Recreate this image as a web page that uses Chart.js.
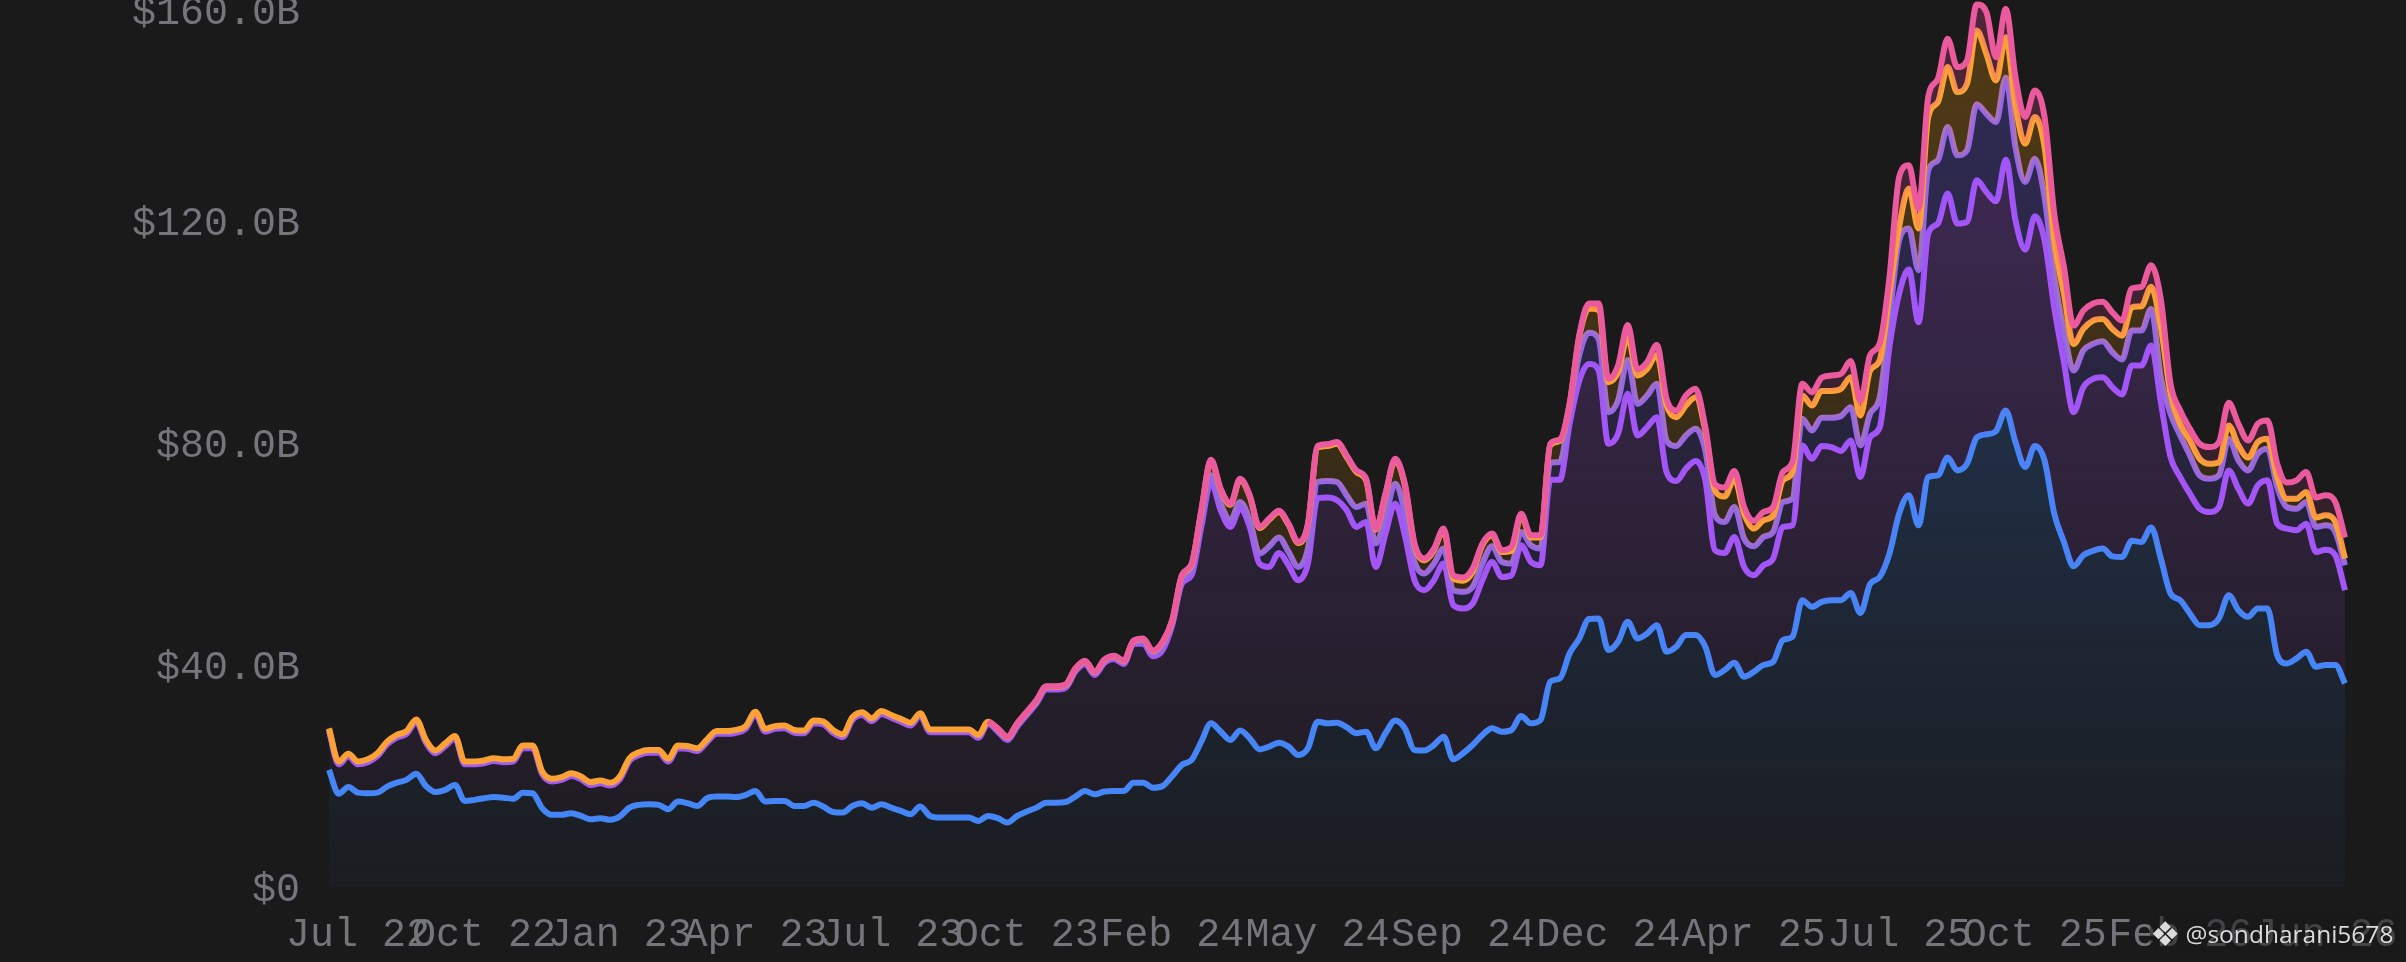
<!DOCTYPE html>
<html>
<head>
<meta charset="utf-8">
<title>Stacked values</title>
<script src="https://cdn.jsdelivr.net/npm/chart.js@4/dist/chart.umd.min.js"></script>
<style>
  html, body { margin: 0; padding: 0; background: #1a1a1a; overflow: hidden; }
  #wrap { position: relative; width: 2406px; height: 962px; }
  #mark { position: absolute; left: 2150px; top: 914px; padding-right: 9px; background: rgba(26,26,26,0.55); color: #dcdcdc; font: 24.5px "Open Sans", sans-serif; white-space: nowrap; }
  #mark span { font: 34px "DejaVu Sans", sans-serif; margin-right: 5px; vertical-align: -3px; }
</style>
</head>
<body>
<div id="wrap">
  <canvas id="chart1" width="2406" height="962"></canvas>
  <div id="mark"><span>❖</span>@sondharani5678</div>
</div>
<script>
// values in $B, each line is the top of its band
const blueLine = [
  21.2,16.9,18.1,17.1,17.0,17.1,18.2,18.9,19.4,20.5,18.3,17.2,17.6,18.5,15.6,15.8,16.1,16.3,16.2,16.0,
  17.1,17.0,14.3,13.1,13.1,13.4,12.9,12.3,12.5,12.2,12.8,14.4,14.9,15.0,14.9,14.1,15.5,15.2,14.7,16.1,
  16.4,16.4,16.3,16.7,17.4,15.5,15.6,15.6,14.7,14.7,15.3,14.6,13.6,13.5,14.7,15.2,14.4,15.0,14.4,13.8,
  13.2,14.6,12.9,12.6,12.6,12.6,12.6,12.0,12.9,12.5,11.7,12.9,13.7,14.4,15.3,15.3,15.4,16.4,17.4,16.8,
  17.3,17.4,17.4,18.9,18.9,18.0,18.3,20.1,22.1,23.0,26.3,29.6,28.1,26.6,28.3,26.9,24.9,25.4,26.1,25.4,
  23.9,25.1,29.9,29.6,29.7,28.9,27.8,28.1,25.1,27.8,30.1,28.7,24.8,24.7,25.7,27.2,23.1,24.2,25.7,27.5,
  28.7,28.1,28.4,30.9,29.6,30.2,37.1,37.7,42.2,44.9,48.4,48.5,42.8,44.3,47.9,44.9,45.8,47.3,42.5,43.4,
  45.5,45.5,43.4,38.3,39.2,40.5,38.0,38.9,40.1,40.7,44.6,45.2,51.8,50.6,51.5,51.8,51.8,53.1,49.5,54.7,
  56.0,60.2,67.4,70.7,65.3,74.0,74.3,77.5,75.2,76.4,81.1,81.7,82.3,86.0,80.3,75.8,79.6,77.0,67.4,62.3,
  57.9,59.9,60.7,61.1,59.7,59.6,62.5,62.3,64.9,59.3,53.0,51.8,49.4,47.3,47.3,48.5,52.7,50.0,48.8,50.3,
  50.3,41.9,40.4,41.3,42.5,39.8,40.1,40.1,36.8
];
const purpleLine = [
  28.2,22.2,23.6,22.2,22.6,23.7,25.8,27.0,27.7,29.8,26.1,24.2,25.5,26.8,22.2,22.2,22.4,22.8,22.6,22.7,
  25.1,25.1,20.4,19.1,19.4,20.1,19.5,18.5,18.8,18.4,19.5,22.8,23.9,24.3,24.3,22.7,25.1,25.0,24.6,26.2,
  27.7,27.7,27.9,28.6,31.2,28.1,28.6,28.7,27.9,27.8,29.6,29.4,27.9,27.1,30.2,31.1,30.0,31.3,30.6,29.9,
  29.2,30.9,28.0,28.0,28.0,28.0,28.0,27.0,29.5,28.1,26.6,29.0,31.1,33.2,35.7,35.7,36.0,38.9,40.3,38.3,
  40.5,41.2,40.3,43.9,44.0,41.7,42.8,47.3,54.8,56.3,65.0,73.1,68.0,65.0,68.3,65.0,58.4,57.8,60.3,58.1,
  55.4,58.4,70.2,70.3,69.8,68.0,65.0,65.9,57.8,63.8,69.2,63.5,55.4,53.6,55.4,58.4,50.9,50.3,51.2,55.4,
  58.7,56.0,56.3,61.7,58.7,58.1,73.5,73.5,83.6,91.4,94.4,93.2,80.0,81.8,89.0,81.5,83.0,84.8,74.9,73.3,
  75.5,76.9,73.4,60.8,60.3,63.2,57.8,56.3,58.1,59.3,65.0,65.3,79.7,77.3,79.6,79.4,78.7,80.6,74.0,81.2,
  83.0,97.5,107.1,111.4,101.9,117.9,119.7,125.1,119.7,120.0,127.5,125.4,123.7,131.2,120.3,115.0,121.0,116.7,104.6,94.7,
  85.7,90.2,91.7,92.0,90.2,88.9,94.1,94.1,97.7,87.5,77.6,74.0,71.0,68.3,67.7,68.6,75.2,71.9,69.2,72.5,
  73.4,65.6,64.7,64.4,65.6,60.5,60.9,59.9,53.6
];
const violetLine = [
  28.5,22.5,23.9,22.5,22.9,24.0,26.1,27.3,28.0,30.1,26.4,24.5,25.8,27.1,22.5,22.5,22.7,23.1,22.9,23.0,
  25.4,25.4,20.7,19.4,19.7,20.4,19.8,18.8,19.1,18.7,19.8,23.1,24.2,24.6,24.6,23.0,25.4,25.3,24.9,26.5,
  28.0,28.0,28.2,28.9,31.5,28.4,28.9,29.0,28.2,28.1,29.9,29.7,28.2,27.4,30.5,31.4,30.3,31.6,30.9,30.2,
  29.5,31.2,28.3,28.3,28.3,28.3,28.3,27.3,29.8,28.4,26.9,29.3,31.4,33.5,36.0,36.0,36.3,39.2,40.6,38.6,
  40.8,41.5,40.6,44.2,44.3,42.2,43.4,47.6,55.4,57.2,66.2,74.3,69.2,66.2,69.5,66.2,60.2,61.5,63.1,60.5,
  57.8,61.1,73.1,73.3,73.1,70.7,68.6,69.2,62.0,66.8,72.8,67.7,58.7,56.6,58.4,61.1,53.6,53.3,54.2,58.4,
  61.5,58.7,58.4,64.1,61.7,61.1,76.6,76.7,86.0,96.0,100.0,98.8,85.7,87.8,95.1,87.2,88.7,90.8,80.6,79.6,
  81.5,82.7,78.8,67.1,65.9,68.6,62.9,61.5,63.2,64.1,69.5,70.1,84.5,82.4,84.7,84.7,85.0,86.6,79.7,85.4,
  88.4,102.6,116.7,118.8,111.3,129.3,131.1,137.1,132.0,132.9,141.2,139.5,138.0,146.0,133.5,127.2,131.4,124.5,110.1,100.4,
  93.2,96.8,98.0,98.5,96.5,95.2,100.4,100.4,104.3,92.0,85.4,81.5,77.9,74.3,73.7,74.3,80.9,77.0,75.2,78.2,
  79.1,72.2,68.6,68.3,69.5,65.0,65.3,64.1,58.1
];
const orangeLine = [
  28.7,22.7,24.1,22.7,23.1,24.2,26.3,27.5,28.2,30.3,26.6,24.7,26.0,27.3,22.7,22.7,22.9,23.3,23.1,23.2,
  25.6,25.6,20.9,19.6,19.9,20.6,20.0,19.0,19.3,18.9,20.0,23.3,24.4,24.8,24.8,23.2,25.6,25.5,25.1,26.7,
  28.2,28.2,28.4,29.1,31.7,28.6,29.1,29.2,28.4,28.3,30.1,29.9,28.4,27.6,30.7,31.6,30.5,31.8,31.1,30.4,
  29.7,31.4,28.5,28.5,28.5,28.5,28.5,27.5,29.9,28.6,27.1,29.5,31.6,33.7,36.2,36.2,36.5,39.4,40.8,38.8,
  41.0,41.7,40.8,44.4,44.8,42.6,44.2,48.1,56.2,58.2,67.8,76.9,71.7,69.0,73.5,70.5,64.8,66.3,67.7,65.4,
  62.1,65.4,79.3,79.6,80.0,77.6,74.9,73.4,64.5,70.8,77.0,72.5,61.7,59.0,60.8,64.4,55.7,55.3,56.9,61.7,
  63.5,60.5,60.7,67.1,63.1,63.1,79.7,80.5,87.1,99.3,104.4,104.1,91.1,92.9,99.3,92.3,93.5,96.0,86.9,84.8,
  86.9,88.4,82.4,71.6,70.5,73.7,67.4,64.7,66.2,67.1,73.4,74.9,88.7,86.9,89.5,89.5,89.9,92.0,85.1,93.2,
  95.1,107.0,119.1,126.0,118.8,138.9,141.6,147.9,143.4,144.9,154.5,150.3,145.5,153.3,141.0,134.1,138.9,133.5,116.7,107.1,
  98.0,100.7,102.2,102.5,100.7,99.5,104.6,104.8,108.3,101.0,89.0,83.6,80.6,77.3,76.4,76.7,83.3,79.7,77.5,80.3,
  80.9,74.0,70.1,70.1,71.3,66.7,67.1,65.9,59.3
];
const pinkLine = [
  null,null,null,null,null,null,null,null,null,null,null,null,null,null,null,null,null,null,null,null,
  null,null,null,null,null,null,null,null,null,null,null,null,null,null,null,null,null,null,null,null,
  null,null,null,null,null,null,null,null,null,null,null,null,null,null,null,null,null,null,null,null,
  null,null,null,null,null,null,null,null,30.0,28.7,27.2,29.6,31.7,33.8,36.3,36.3,36.6,39.5,40.9,38.9,
  41.1,41.8,40.9,44.5,44.9,42.7,44.3,48.2,56.3,58.4,68.0,77.1,71.9,69.2,73.7,70.7,65.0,66.5,67.9,65.6,
  62.3,65.6,79.6,79.9,80.3,77.9,75.2,73.7,64.7,71.0,77.3,72.8,62.0,59.3,61.1,64.7,56.3,55.9,57.5,62.0,
  63.8,60.8,61.4,67.4,63.5,63.5,80.0,80.8,87.2,99.6,105.3,105.3,91.7,94.1,101.4,93.4,94.7,97.8,88.1,86.0,
  88.7,89.9,83.0,72.7,72.1,75.1,68.6,66.1,67.7,68.6,74.9,76.7,90.8,89.3,91.9,92.3,92.6,94.9,87.7,96.0,
  98.1,110.0,128.1,130.2,122.4,142.5,145.8,153.0,147.9,149.1,159.2,157.8,149.7,158.4,146.1,138.9,143.7,138.9,121.5,111.9,
  101.3,104.0,105.3,105.6,103.7,102.2,108.0,108.3,112.2,106.0,90.8,86.0,82.7,80.0,79.4,80.3,87.4,83.6,80.6,83.6,
  84.2,76.4,73.0,73.4,74.9,70.3,70.7,69.5,63.1
];
const tickLabels = ['Jul 22','Oct 22','Jan 23','Apr 23','Jul 23','Oct 23','Feb 24','May 24','Sep 24','Dec 24','Apr 25','Jul 25','Oct 25','Feb 26','Jun 26'];
const tickPoints = [3,16,30,44,58,72,87,102,117,132,147,162,176,191,206];
const yTickValues = [-0.5,39.5,79.5,119.5,157.5];
const yTickLabels = ['$0','$40.0B','$80.0B','$120.0B','$160.0B'];

const categories = blueLine.map((v, i) => {
  const k = tickPoints.indexOf(i);
  return k >= 0 ? tickLabels[k] : '';
});

const axisFont = { family: '"Liberation Mono", monospace', size: 40 };
const axisColor = '#75757c';

// vertical fade for a band, from the height "from" (0 top, 1 bottom of the plot) down to the axis
function fade(rgb, topAlpha, bottomAlpha, from) {
  return function (ctx) {
    const area = ctx.chart.chartArea;
    if (!area) return 'rgba(' + rgb + ',' + topAlpha + ')';
    const g = ctx.chart.ctx.createLinearGradient(0, area.top + area.height * from, 0, area.bottom);
    g.addColorStop(0, 'rgba(' + rgb + ',' + topAlpha + ')');
    g.addColorStop(1, 'rgba(' + rgb + ',' + bottomAlpha + ')');
    return g;
  };
}

function band(label, data, color, fill, background) {
  return {
    label: label,
    data: data,
    borderColor: color,
    borderWidth: 6,
    backgroundColor: background,
    fill: fill,
    pointRadius: 0,
    cubicInterpolationMode: 'monotone',
    borderJoinStyle: 'round'
  };
}

new Chart(document.getElementById('chart1'), {
  type: 'line',
  data: {
    labels: categories,
    datasets: [
      band('Pink', pinkLine, '#ec5a9e', '+1', fade('236,72,153', 0.26, 0.03, 0)),
      band('Orange', orangeLine, '#fba136', '+1', fade('245,158,11', 0.26, 0.03, 0)),
      band('Violet', violetLine, '#9566e6', '+1', fade('110,90,246', 0.26, 0.03, 0.1)),
      band('Purple', purpleLine, '#a855f7', '+1', fade('168,85,247', 0.28, 0.02, 0.1)),
      band('Blue', blueLine, '#4287f5', 'origin', fade('59,130,246', 0.2, 0.03, 0.46))
    ]
  },
  options: {
    responsive: false,
    animation: false,
    layout: { padding: { left: 0, right: 61, top: 0, bottom: 0 } },
    plugins: { legend: { display: false }, tooltip: { enabled: false } },
    scales: {
      x: {
        grid: { display: false },
        border: { display: false },
        ticks: { color: axisColor, font: axisFont, autoSkip: false, maxRotation: 0, minRotation: 0, padding: 16 },
        afterFit: s => { s.height = 74.5; s.paddingLeft = 0; s.paddingRight = 0; }
      },
      y: {
        min: 0,
        max: 160,
        grid: { display: false },
        border: { display: false },
        afterBuildTicks: s => { s.ticks = yTickValues.map(v => ({ value: v })); },
        ticks: { color: axisColor, font: axisFont, padding: 21, callback: (v, i) => yTickLabels[i] },
        afterFit: s => { s.width = 329; s.paddingTop = 0; s.paddingBottom = 0; }
      }
    }
  }
});
</script>
</body>
</html>
